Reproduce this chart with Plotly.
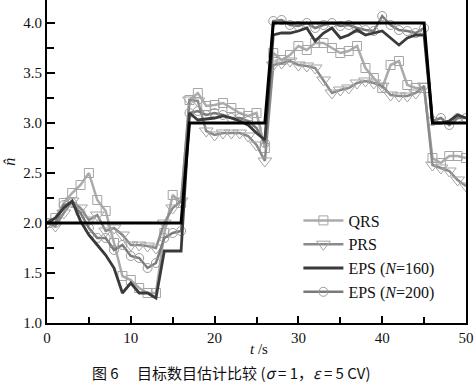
import plotly.graph_objects as go

t = list(range(0, 51))

true_n = [2]*17 + [3]*10 + [4]*19 + [3]*5

qrs = [2.00, 2.05, 2.20, 2.30, 2.38, 2.50, 2.23, 2.12, 1.80, 1.47,
       1.43, 1.35, 1.30, 1.30, 1.90, 2.28, 2.20, 3.23, 3.30, 3.17,
       3.18, 3.20, 3.15, 3.10, 3.07, 3.10, 2.75, 3.70, 3.63, 3.68,
       3.77, 3.73, 3.80, 3.80, 3.75, 3.70, 3.72, 3.77, 3.55, 3.45,
       3.35, 3.58, 3.62, 3.38, 3.35, 3.35, 2.65, 2.60, 2.67, 2.67, 2.65]

prs = [2.00, 1.97, 2.10, 2.22, 2.15, 2.03, 2.08, 1.92, 1.95, 1.88,
       1.78, 1.78, 1.77, 1.75, 2.00, 2.15, 2.22, 3.23, 3.22, 2.92,
       2.88, 2.90, 2.90, 2.90, 2.87, 2.78, 2.62, 3.58, 3.60, 3.62,
       3.58, 3.57, 3.55, 3.43, 3.30, 3.33, 3.35, 3.40, 3.42, 3.40,
       3.37, 3.28, 3.27, 3.27, 3.30, 3.37, 2.58, 2.55, 2.52, 2.43, 2.37]

eps160 = [2.00, 2.05, 2.15, 2.22, 2.02, 1.88, 1.78, 1.68, 1.55, 1.30,
          1.40, 1.30, 1.30, 1.25, 1.72, 1.72, 1.72, 3.10, 3.03, 3.04,
          3.05, 3.07, 3.05, 3.02, 2.98, 2.90, 2.83, 3.88, 3.90, 3.90,
          3.92, 3.95, 3.82, 3.90, 3.95, 3.85, 3.88, 3.93, 3.88, 3.90,
          3.92, 3.85, 3.78, 3.85, 3.88, 3.88, 3.00, 3.00, 3.02, 3.08, 3.05]

eps200 = [2.00, 2.00, 2.18, 2.20, 2.10, 1.95, 1.85, 1.85, 1.73, 1.78,
          1.67, 1.65, 1.55, 1.60, 1.85, 1.90, 1.92, 3.10, 3.12, 3.08,
          3.10, 3.08, 3.05, 3.05, 3.02, 2.95, 2.80, 4.02, 4.03, 3.98,
          3.97, 4.00, 3.95, 3.98, 4.00, 3.97, 3.98, 3.95, 3.93, 3.92,
          4.07, 3.98, 3.93, 3.92, 3.90, 3.95, 3.02, 3.05, 2.98, 3.05, 3.05]

names = ["QRS", "PRS", "EPS (<i>N</i>=160)", "EPS (<i>N</i>=200)"]

FONT = "Liberation Serif, Times New Roman, serif"

fig = go.Figure()

fig.add_trace(go.Scatter(
    x=t, y=qrs, name=names[0], mode="lines+markers", legendrank=1,
    line=dict(color="#ababab", width=2.5),
    marker=dict(symbol="square-open", size=9, color="#a5a5a5", line=dict(width=1))))
fig.add_trace(go.Scatter(
    x=t, y=prs, name=names[1], mode="lines+markers", legendrank=2,
    line=dict(color="#8a8a8a", width=2.5),
    marker=dict(symbol="triangle-down-open", size=12, color="#a5a5a5", line=dict(width=1))))
fig.add_trace(go.Scatter(
    x=t, y=eps200, name=names[3], mode="lines+markers", legendrank=4,
    line=dict(color="#7a7a7a", width=2.5),
    marker=dict(symbol="circle-open", size=9, color="#9a9a9a", line=dict(width=1))))
fig.add_trace(go.Scatter(
    x=t, y=eps160, name=names[2], mode="lines", legendrank=3,
    line=dict(color="#3a3a3a", width=2.8)))
fig.add_trace(go.Scatter(
    x=t, y=true_n, mode="lines", showlegend=False,
    line=dict(color="#000000", width=3)))

fig.update_layout(
    width=474, height=385,
    margin=dict(l=47, r=8, t=0, b=62),
    plot_bgcolor="white", paper_bgcolor="white",
    font=dict(family=FONT, size=15, color="#111"),
    showlegend=True,
    legend=dict(x=0.6, y=0.37, xanchor="left", yanchor="top",
                bgcolor="rgba(0,0,0,0)", font=dict(family=FONT, size=16),
                tracegroupgap=0, itemwidth=40),
    xaxis=dict(range=[0, 50], dtick=10, tick0=0, showgrid=False, zeroline=False,
               showline=True, linecolor="#000", linewidth=2,
               ticks="inside", ticklen=7, tickwidth=2, tickcolor="#000",
               minor=dict(dtick=5, ticks="inside", ticklen=6, tickwidth=2, tickcolor="#000"),
               tickfont=dict(family=FONT, size=15)),
    yaxis=dict(range=[1.0, 4.23], dtick=0.5, tick0=1.0, tickformat=".1f",
               showgrid=False, zeroline=False,
               showline=True, mirror=True, linecolor="#000", linewidth=2,
               ticks="inside", ticklen=8, tickwidth=2, tickcolor="#000",
               minor=dict(dtick=0.25, ticks="inside", ticklen=7, tickwidth=2, tickcolor="#000"),
               tickfont=dict(family=FONT, size=15)),
    annotations=[
        dict(text="<i>t</i> /s", xref="paper", yref="paper", x=0.505, y=-0.082,
             xanchor="center", yanchor="middle", showarrow=False,
             font=dict(family=FONT, size=15)),
        dict(text="<i>n̂</i>", xref="paper", yref="paper", x=-0.09, y=0.50,
             xanchor="center", yanchor="middle", showarrow=False, textangle=-90,
             font=dict(family=FONT, size=16)),
        dict(text="图 6　 目标数目估计比较 (<i>σ</i> = 1，<i>ε</i> = 5 CV)",
             xref="paper", yref="paper", x=0.44, y=-0.153,
             xanchor="center", yanchor="middle", showarrow=False,
             font=dict(family="Noto Sans CJK SC", size=15)),
    ],
)

fig.write_html("out.html", config={"displayModeBar": False},
               post_script="document.body.style.margin='0px';")
